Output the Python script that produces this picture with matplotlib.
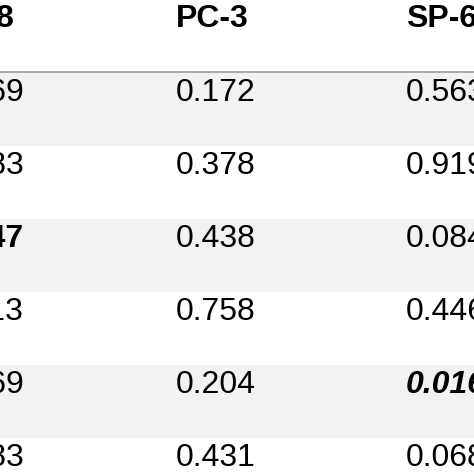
import matplotlib.pyplot as plt

headers = ["DU145-8", "PC-3", "SP-6"]
col_a = ["0.769", "0.383", "0.047", "0.413", "0.169", "0.183"]
col_pc3 = ["0.172", "0.378", "0.438", "0.758", "0.204", "0.431"]
col_sp6 = ["0.563", "0.919", "0.084", "0.446", "0.016", "0.068"]
bold_a = [False, False, True, False, False, False]
bold_sp6 = [False, False, False, False, True, False]

plt.rcParams['font.family'] = ['Liberation Sans', 'DejaVu Sans']

fig = plt.figure(figsize=(4.74, 4.74), dpi=100)
ax = fig.add_axes([0, 0, 1, 1])
ax.set_xlim(0, 474)
ax.set_ylim(474, 0)
ax.axis('off')

fs = 23
row_h = 73
top = 73

# header
ax.text(15, 19, headers[0], ha='right', va='center', fontsize=fs, fontweight='bold')
ax.text(176, 19, headers[1], ha='left', va='center', fontsize=fs, fontweight='bold')
ax.text(406, 19, headers[2], ha='left', va='center', fontsize=fs, fontweight='bold')
ax.axhline(72, color='#999999', lw=1.2)

for i in range(len(col_pc3)):
    y0 = top + i * row_h
    if i % 2 == 0:
        ax.axhspan(y0, y0 + row_h, color='#f2f2f2', lw=0, zorder=0)
    yc = y0 + 20
    ax.text(24, yc, col_a[i], ha='right', va='center', fontsize=fs,
            fontweight='bold' if bold_a[i] else 'normal')
    ax.text(176, yc, col_pc3[i], ha='left', va='center', fontsize=fs)
    ax.text(406, yc, col_sp6[i], ha='left', va='center', fontsize=fs,
            fontweight='bold' if bold_sp6[i] else 'normal',
            fontstyle='italic' if bold_sp6[i] else 'normal')

fig.savefig('out.png', dpi=100)
